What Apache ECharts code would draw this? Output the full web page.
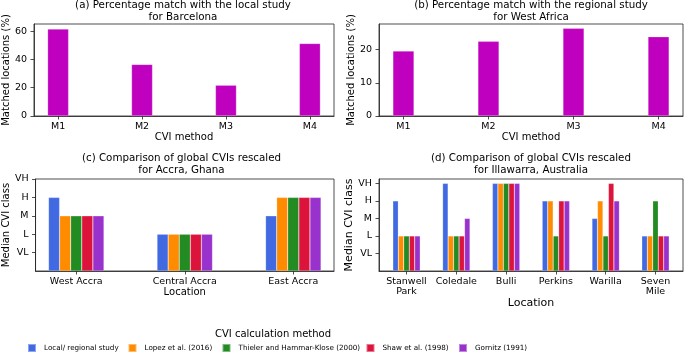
<!DOCTYPE html>
<html>
<head>
<meta charset="utf-8">
<script src="https://cdn.jsdelivr.net/npm/echarts@6/dist/echarts.min.js"></script>
<style>
html, body { margin: 0; padding: 0; background: #fff; }
#chart { width: 685px; height: 353px; }
</style>
</head>
<body>
<div id="chart"></div>
<script>
// (a) / (b) percentage match
var methods = ['M1', 'M2', 'M3', 'M4'];
var barcelonaMatch = [61.5, 36.5, 21.8, 51.3];
var westAfricaMatch = [19.6, 22.5, 26.4, 23.9];
var barcelonaTicks = [0, 20, 40, 60];
var westAfricaTicks = [0, 10, 20];

// (c) / (d) median CVI class (1 = VL ... 5 = VH)
var cviClasses = ['', 'VL', 'L', 'M', 'H', 'VH'];
var classTicks = [1, 2, 3, 4, 5];
var cviMethods = ['Local/ regional study', 'Lopez et al. (2016)', 'Thieler and Hammar-Klose (2000)', 'Shaw et al. (1998)', 'Gornitz (1991)'];
var cviColors = ['#4169e1', '#ff8c00', '#228b22', '#dc143c', '#9932cc'];

var accraLocations = ['West Accra', 'Central Accra', 'East Accra'];
var accraLocal = [4, 2, 3];
var accraLopez = [3, 2, 4];
var accraThieler = [3, 2, 4];
var accraShaw = [3, 2, 4];
var accraGornitz = [3, 2, 4];

var illawarraLocations = ['Stanwell\nPark', 'Coledale', 'Bulli', 'Perkins', 'Warilla', 'Seven\nMile'];
var illawarraLocal = [4, 5, 5, 4, 3, 2];
var illawarraLopez = [2, 2, 5, 4, 4, 2];
var illawarraThieler = [2, 2, 5, 2, 2, 4];
var illawarraShaw = [2, 2, 5, 4, 5, 2];
var illawarraGornitz = [2, 3, 5, 4, 4, 2];

var accraSets = [accraLocal, accraLopez, accraThieler, accraShaw, accraGornitz];
var illawarraSets = [illawarraLocal, illawarraLopez, illawarraThieler, illawarraShaw, illawarraGornitz];

var chart = echarts.init(document.getElementById('chart'));

var FONT = 'DejaVu Sans';
var grids = [
	{ left: 32, top: 24, width: 302, height: 92 },
	{ left: 379, top: 24, width: 304, height: 92 },
	{ left: 29, top: 179, width: 305, height: 92 },
	{ left: 379, top: 179, width: 304, height: 92 }
];
// x ranges in data units (matplotlib style margins)
var xRanges = [[-0.2875, 3.2875], [-0.2875, 3.2875], [-0.375, 2.375], [-0.5525, 5.5525]];
var barUnits = [0.25, 0.25, 0.1, 0.11];

function px(i) {
	return grids[i].width / (xRanges[i][1] - xRanges[i][0]) * barUnits[i];
}

function idx(n) {
	var a = [];
	for (var i = 0; i < n; i++) a.push(i);
	return a;
}

function pairs(arr) {
	return arr.map(function(v, i) { return [i, v]; });
}

function xAxis(gi, cats, name, nameGap, nameSize) {
	return {
		type : 'value',
		gridIndex : gi,
		min : xRanges[gi][0],
		max : xRanges[gi][1],
		name : name,
		nameLocation : 'middle',
		nameGap : nameGap,
		nameTextStyle : { color : '#000', fontFamily : FONT, fontSize : nameSize },
		axisLine : { show : true, onZero : false, lineStyle : { color : '#222', width : 0.8 } },
		axisTick : { show : true, length : 3.5, customValues : idx(cats.length), lineStyle : { color : '#222', width : 0.8 } },
		axisLabel : {
			customValues : idx(cats.length),
			formatter : function(v) { return cats[Math.round(v)]; },
			color : '#000', fontFamily : FONT, fontSize : 9.5, margin : 6, lineHeight : 10
		},
		splitLine : { show : false }
	};
}

function yAxis(gi, min, max, ticks, fmt, name, nameGap, nameSize) {
	return {
		type : 'value',
		gridIndex : gi,
		min : min,
		max : max,
		name : name,
		nameLocation : 'middle',
		nameGap : nameGap,
		nameTextStyle : { color : '#000', fontFamily : FONT, fontSize : nameSize },
		axisLine : { show : true, onZero : false, lineStyle : { color : '#222', width : 0.8 } },
		axisTick : { show : true, length : 3.5, customValues : ticks, lineStyle : { color : '#222', width : 0.8 } },
		axisLabel : {
			customValues : ticks,
			formatter : fmt,
			color : '#000', fontFamily : FONT, fontSize : 9.5, margin : 7
		},
		splitLine : { show : false }
	};
}

var classFmt = function(v) { return cviClasses[Math.round(v)]; };
var numFmt = function(v) { return String(v); };

var series = [
	{
		name : 'Barcelona', type : 'bar', xAxisIndex : 0, yAxisIndex : 0,
		barWidth : px(0), data : pairs(barcelonaMatch),
		itemStyle : { color : '#bf00bf', borderColor : 'rgba(255,255,255,0.45)', borderWidth : 0.6 }
	},
	{
		name : 'West Africa', type : 'bar', xAxisIndex : 1, yAxisIndex : 1,
		barWidth : px(1), data : pairs(westAfricaMatch),
		itemStyle : { color : '#bf00bf', borderColor : 'rgba(255,255,255,0.45)', borderWidth : 0.6 }
	}
];

cviMethods.forEach(function(name, k) {
	series.push({
		name : name, type : 'bar', xAxisIndex : 2, yAxisIndex : 2,
		barWidth : px(2), barGap : '0%', data : pairs(accraSets[k]),
		itemStyle : { color : cviColors[k], borderColor : 'rgba(255,255,255,0.4)', borderWidth : 0.5 }
	});
});
cviMethods.forEach(function(name, k) {
	series.push({
		name : name, type : 'bar', xAxisIndex : 3, yAxisIndex : 3,
		barWidth : px(3), barGap : '0%', data : pairs(illawarraSets[k]),
		itemStyle : { color : cviColors[k], borderColor : 'rgba(255,255,255,0.4)', borderWidth : 0.5 }
	});
});

// legend: one component per entry so the spacing follows the figure
var legendLeft = [27, 127.5, 221.5, 365.5, 458];
var legends = cviMethods.map(function(name, k) {
	return {
		data : [name],
		left : legendLeft[k],
		top : 343,
		itemWidth : 8,
		itemHeight : 8,
		icon : 'rect',
		selectedMode : false,
		padding : 0,
		textStyle : { color : '#000', fontFamily : FONT, fontSize : 7.2, padding : [0, 0, 0, 3] }
	};
});

function titleAt(text, cx, top, size) {
	return {
		text : text,
		left : cx,
		top : top,
		textAlign : 'center',
		padding : 0,
		textStyle : { color : '#000', fontFamily : FONT, fontSize : size || 10.3, fontWeight : 'normal', lineHeight : 11.5 }
	};
}

chart.setOption({
	animation : false,
	backgroundColor : '#fff',
	title : [
		titleAt('(a) Percentage match with the local study\nfor Barcelona', 183, 0),
		titleAt('(b) Percentage match with the regional study\nfor West Africa', 531, 0),
		titleAt('(c) Comparison of global CVIs rescaled\nfor Accra, Ghana', 181.5, 153),
		titleAt('(d) Comparison of global CVIs rescaled\nfor Illawarra, Australia', 531, 153),
		titleAt('CVI calculation method', 273, 329, 10)
	],
	legend : legends,
	grid : grids.map(function(g) {
		return { left : g.left, top : g.top, width : g.width, height : g.height, show : true, borderColor : '#222', borderWidth : 0.8, containLabel : false };
	}),
	xAxis : [
		xAxis(0, methods, 'CVI method', 15, 10),
		xAxis(1, methods, 'CVI method', 15, 10),
		xAxis(2, accraLocations, 'Location', 15, 10),
		xAxis(3, illawarraLocations, 'Location', 26, 11)
	],
	yAxis : [
		yAxis(0, 0, 65, barcelonaTicks, numFmt, 'Matched locations (%)', 19, 10),
		yAxis(1, 0, 27.7, westAfricaTicks, numFmt, 'Matched locations (%)', 21, 10),
		yAxis(2, 0, 5, classTicks, classFmt, 'Median CVI class', 20, 10),
		yAxis(3, 0, 5.25, classTicks, classFmt, 'Median CVI class', 22, 11)
	],
	series : series
});
</script>
</body>
</html>
